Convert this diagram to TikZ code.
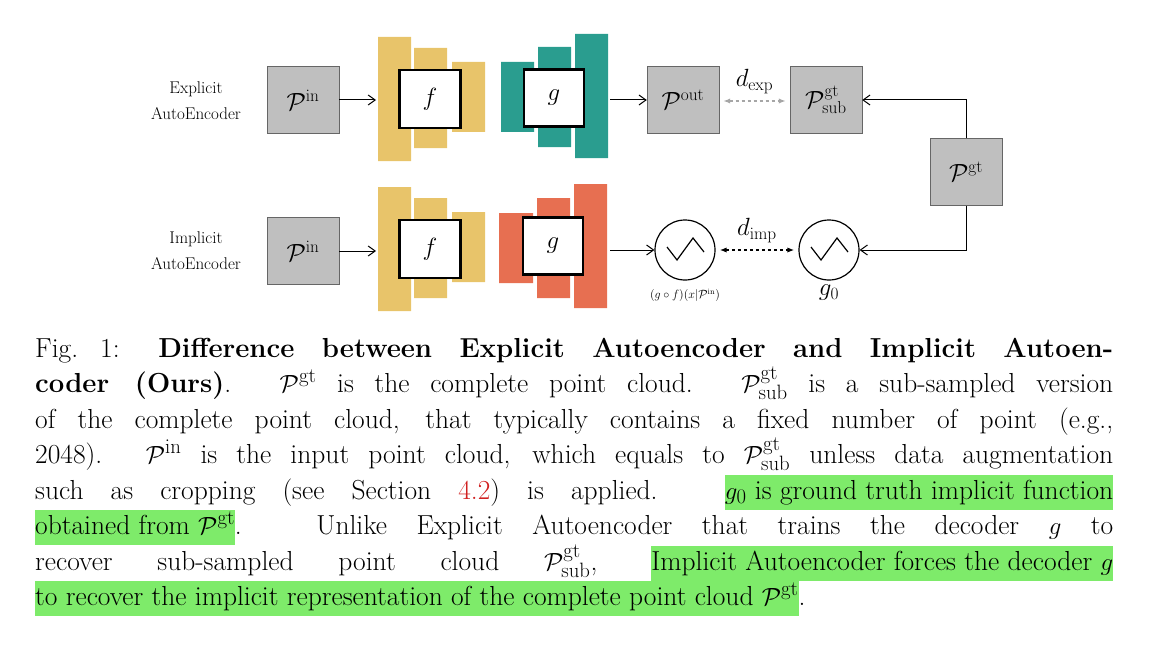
\documentclass[tikz,border=0pt]{standalone}
\usetikzlibrary{arrows.meta,calc}
\definecolor{fy}{HTML}{E8C46A}
\definecolor{ft}{HTML}{2A9D8F}
\definecolor{fo}{HTML}{E76F51}
\definecolor{gbox}{HTML}{BFBFBF}
\definecolor{hl}{HTML}{7EEB6A}
\definecolor{refc}{HTML}{D02020}
\newcommand{\hlb}[1]{{\setlength{\fboxsep}{0pt}\colorbox{hl}{\strut #1}}}
\newcommand{\capline}[1]{\makebox[1078pt][s]{#1}}
\begin{document}
\begin{tikzpicture}[x=1pt,y=-1pt,
  pbox/.style={draw=black!60,fill=gbox,minimum width=72pt,minimum height=67pt,inner sep=0pt,font=\fontsize{27}{30}\selectfont},
  fnbox/.style={draw=black,line width=2.2pt,fill=white,inner sep=0pt,font=\fontsize{30}{32}\selectfont},
  arr/.style={-{Straight Barb[length=7pt,width=10pt]},line width=1pt},
  lbl/.style={align=center,font=\fontsize{17}{26}\selectfont},
  circ/.style={circle,draw,line width=1.2pt,minimum size=60pt,inner sep=0pt},
  captxt/.style={anchor=base west,inner sep=0pt,font=\fontsize{27.5}{35}\selectfont}]
\useasboundingbox (0,0) rectangle (1164,650);
% labels
\node[lbl] (le) at (196,101) {Explicit\\AutoEncoder};
\node[lbl] (li) at (196,251) {Implicit\\AutoEncoder};
% top row
\node[pbox] (pin1) at (303,100) {$\mathcal{P}^{\mathrm{in}}$};
\fill[fy] (378,37) rectangle (411,161) (414,48) rectangle (447,148) (452,62) rectangle (485,132);
\node[fnbox,minimum width=61pt,minimum height=58pt] (f1) at (430,99) {$f$};
\fill[ft] (501,62) rectangle (534,132) (538,47) rectangle (571,147) (575,34) rectangle (608,158);
\node[fnbox,minimum width=60pt,minimum height=57pt] (g1) at (554,98) {$g$};
\node[pbox] (pout) at (683,100) {$\mathcal{P}^{\mathrm{out}}$};
\node[pbox] (psub) at (826,100) {$\mathcal{P}^{\mathrm{gt}}_{\mathrm{sub}}$};
\node[pbox] (pgt) at (966,172) {$\mathcal{P}^{\mathrm{gt}}$};
\draw[arr] (pin1) -- (376,100);
\draw[arr] (610,100) -- (pout);
\draw[{Latex[length=7pt]}-{Latex[length=7pt]},gray!70,dashed,line width=1.5pt] ($(pout.east)+(4,1)$) -- node[above=3pt,black,font=\fontsize{27}{30}\selectfont] (dexp) {$d_{\mathrm{exp}}$} ($(psub.west)+(-4,1)$);
\draw[arr] (pgt.north) |- (psub.east);
% bottom row
\node[pbox] (pin2) at (303,251) {$\mathcal{P}^{\mathrm{in}}$};
\fill[fy] (378,187) rectangle (411,311) (414,198) rectangle (447,298) (452,212) rectangle (485,282);
\node[fnbox,minimum width=61pt,minimum height=58pt] (f2) at (430,249) {$f$};
\fill[fo] (499,213) rectangle (533,283) (537,198) rectangle (570,298) (574,184) rectangle (607,308);
\node[fnbox,minimum width=60pt,minimum height=57pt] (g2) at (553,246) {$g$};
\draw[arr] (pin2) -- (376,251);
\node[circ] (c1) at (685,250) {};
\node[circ] (c2) at (829,250) {};
\draw[line width=1.2pt] (667,247) -- (677,260) -- (693,238) -- (704,252);
\draw[line width=1.2pt] (811,247) -- (821,260) -- (837,238) -- (848,252);
\draw[arr] (610,250) -- (c1);
\draw[{Latex[length=7pt]}-{Latex[length=7pt]},dashed,line width=1.5pt] ($(c1.east)+(4,0)$) -- node[above=3pt,font=\fontsize{27}{30}\selectfont] (dimp) {$d_{\mathrm{imp}}$} ($(c2.west)+(-4,0)$);
\draw[arr] (pgt.south) |- (c2.east);
\node[font=\fontsize{12}{14}\selectfont] (lc1) at (685,295) {$(g\circ f)(x|\mathcal{P}^{\mathrm{in}})$};
\node[font=\fontsize{24}{26}\selectfont] (lc2) at (829,293) {$g_0$};
% caption
\node[captxt] (l1) at (35,357) {\capline{Fig.\ 1: \textbf{Difference between Explicit Autoencoder and Implicit Autoen-}}};
\node[captxt] (l2) at (35,392) {\capline{\textbf{coder (Ours)}. $\mathcal{P}^{\mathrm{gt}}$ is the complete point cloud. $\mathcal{P}^{\mathrm{gt}}_{\mathrm{sub}}$ is a sub-sampled version}};
\node[captxt] (l3) at (35,428) {\capline{of the complete point cloud, that typically contains a fixed number of point (e.g.,}};
\node[captxt] (l4) at (35,463) {\capline{2048). $\mathcal{P}^{\mathrm{in}}$ is the input point cloud, which equals to $\mathcal{P}^{\mathrm{gt}}_{\mathrm{sub}}$ unless data augmentation}};
\node[captxt] (l5) at (35,499) {\capline{such as cropping (see Section \textcolor{refc}{4.2}) is applied. \hlb{$g_0$ is ground truth implicit function}}};
\node[captxt] (l6) at (35,534) {\capline{\hlb{obtained from $\mathcal{P}^{\mathrm{gt}}$}. Unlike Explicit Autoencoder that trains the decoder $g$ to}};
\node[captxt] (l7) at (35,570) {\capline{recover sub-sampled point cloud $\mathcal{P}^{\mathrm{gt}}_{\mathrm{sub}}$, \hlb{Implicit Autoencoder forces the decoder $g$}}};
\node[captxt] (l8) at (35,605) {\hlb{to recover the implicit representation of the complete point cloud $\mathcal{P}^{\mathrm{gt}}$}.};
\end{tikzpicture}
\end{document}
